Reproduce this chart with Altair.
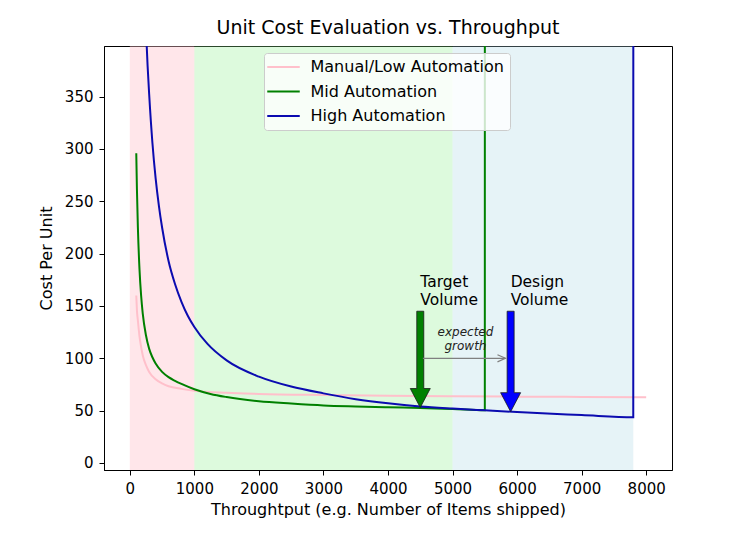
import altair as alt
import pandas as pd

FONT = "DejaVu Sans"

# ---------------- data ----------------
series_names = ["Manual/Low Automation", "Mid Automation", "High Automation"]
series_colors = ["pink", "green", "#0b0bb0"]

manual_x = [100, 110, 125, 150, 175, 200, 250, 300, 400, 500, 600, 800, 1000, 1500, 2000,
            3000, 4000, 5000, 6000, 7000, 8000]
manual_y = [160, 146, 136, 121, 111, 103, 93.5, 87, 80, 76, 73.3, 70.8, 69, 67, 66,
            65, 64.3, 63.8, 63.4, 63.1, 62.8]

mid_x = [100, 110, 125, 150, 175, 200, 250, 300, 350, 400, 500, 600, 700, 800, 1000, 1250,
         1500, 2000, 2500, 3000, 3500, 4000, 4500, 5000, 5500, 5501]
mid_y = [296, 262, 225, 185, 160, 143, 122, 109, 101, 95, 87, 82, 78.5, 75.5, 70.5, 66,
         63, 59, 56.8, 55, 54, 53.2, 52.6, 51.6, 50.5, 600]

high_x = [100, 125, 150, 175, 200, 225, 250, 275, 300, 350, 400, 450, 500, 600, 700, 800, 900,
          1000, 1200, 1500, 2000, 2500, 3000, 3500, 4000, 4500, 5000, 5500, 6000, 7000, 7800, 7801]
high_y = [985, 795, 668, 578, 510, 457, 415, 380, 352, 306, 272, 246, 225, 193, 171, 154, 140.5,
          130, 114, 98, 82.5, 73, 66.5, 61, 57, 54, 52, 50.3, 48.6, 45.8, 43.7, 600]

region_start = [0, 1000, 5000]
region_end = [1000, 5000, 7800]
region_colors = ["pink", "lightgreen", "lightblue"]
region_opacity = [0.4, 0.3, 0.3]

arrow_labels = ["Target\nVolume", "Design\nVolume"]
arrow_x = [4500, 5900]
arrow_tail = [145, 145]
arrow_tip = [53, 49]
arrow_fill = ["green", "blue"]

growth_start = [4540]
growth_end = [5820]
growth_y = [100]
growth_text = ["expected\ngrowth"]

x_ticks = [0, 1000, 2000, 3000, 4000, 5000, 6000, 7000, 8000]
y_ticks = [0, 50, 100, 150, 200, 250, 300, 350]
X_DOMAIN = [-400, 8400]
Y_DOMAIN = [-6.7, 398.4]

W, H = 568, 424

# ---------------- tables ----------------
rows = []
for name, xs_, ys_ in zip(series_names, [manual_x, mid_x, high_x], [manual_y, mid_y, high_y]):
    for i, (xv, yv) in enumerate(zip(xs_, ys_)):
        rows.append({"series": name, "x": xv, "y": yv, "idx": i})
line_df = pd.DataFrame(rows)

region_df = pd.DataFrame({"start": region_start, "end": region_end,
                          "color": region_colors, "op": region_opacity,
                          "y0": [Y_DOMAIN[0]] * 3, "y1": [Y_DOMAIN[1]] * 3})

ppu = H / (Y_DOMAIN[1] - Y_DOMAIN[0])


def arrow_path(length_px, head_len=19.0, head_hw=10.0, shaft_hw=3.5):
    r = length_px / 2.0
    s = shaft_hw / r
    h = head_hw / r
    hb = 1 - head_len / r
    return (f"M{-s:.4f},-1L{s:.4f},-1L{s:.4f},{hb:.4f}L{h:.4f},{hb:.4f}"
            f"L0,1L{-h:.4f},{hb:.4f}L{-s:.4f},{hb:.4f}Z")


arrow_rows = []
for lab, xv, t, tp, f in zip(arrow_labels, arrow_x, arrow_tail, arrow_tip, arrow_fill):
    L = (t - tp) * ppu
    arrow_rows.append({"label": lab, "x": xv, "tail": t, "tip": tp, "mid": (t + tp) / 2,
                       "fill": f, "path": arrow_path(L), "sz": L * L})
arrow_df = pd.DataFrame(arrow_rows)

growth_df = pd.DataFrame({"x0": growth_start, "x1": growth_end, "y": growth_y,
                          "text": growth_text,
                          "xm": [(arrow_x[0] + arrow_x[1]) / 2]})

xs = alt.Scale(domain=X_DOMAIN, nice=False, zero=False)
ys = alt.Scale(domain=Y_DOMAIN, nice=False, zero=False)

x_axis = alt.Axis(values=x_ticks, format="d", grid=False, tickSize=5, labelPadding=6.5,
                  labelFontSize=15, labelFont=FONT, labelColor="black", labelOverlap=False,
                  titleFontSize=16, titleFont=FONT, titleFontWeight="normal", titleColor="black",
                  titleBaseline="alphabetic", titleY=44, domainColor="black", tickColor="black",
                  labelFlush=False)
y_axis = alt.Axis(values=y_ticks, format="d", grid=False, tickSize=5, labelPadding=6,
                  labelFontSize=15, labelFont=FONT, labelColor="black", labelOverlap=False,
                  titleFontSize=16, titleFont=FONT, titleFontWeight="normal", titleColor="black",
                  titleBaseline="alphabetic", titleX=-52.3, titleY=H / 2, titleAngle=270,
                  titleAlign="center", domainColor="black", tickColor="black", labelFlush=False)

regions = alt.Chart(region_df).mark_rect(clip=True).encode(
    x=alt.X("start:Q", scale=xs, axis=x_axis, title="Throughtput (e.g. Number of Items shipped)"),
    x2="end:Q",
    y=alt.Y("y0:Q", scale=ys, axis=y_axis, title="Cost Per Unit"),
    y2="y1:Q",
    color=alt.Color("color:N", scale=None),
    opacity=alt.Opacity("op:Q", scale=None),
)

lines = alt.Chart(line_df).mark_line(clip=True, strokeWidth=2, interpolate="monotone").encode(
    x=alt.X("x:Q", scale=xs),
    y=alt.Y("y:Q", scale=ys),
    color=alt.Color("series:N", scale=alt.Scale(domain=series_names, range=series_colors),
                    legend=alt.Legend(orient="none", legendX=160, legendY=7, title=None,
                                      symbolType="M-2.5,0L2.5,0", symbolSize=169,
                                      symbolStrokeWidth=2, labelFontSize=16, labelFont=FONT,
                                      labelColor="black", labelLimit=400, padding=6,
                                      rowPadding=8.5, symbolOffset=5.5, labelOffset=19,
                                      fillColor="rgba(255,255,255,0.8)", strokeColor="#cccccc",
                                      cornerRadius=3)),
    order=alt.Order("idx:Q"),
)

arrows = alt.Chart(arrow_df).mark_point(filled=True, stroke="#1a1a1a", strokeWidth=0.8,
                                        opacity=1).encode(
    x=alt.X("x:Q", scale=xs),
    y=alt.Y("mid:Q", scale=ys),
    shape=alt.Shape("path:N", scale=None),
    size=alt.Size("sz:Q", scale=None),
    fill=alt.Fill("fill:N", scale=None),
)

arrow_text = alt.Chart(arrow_df).mark_text(align="left", baseline="alphabetic", fontSize=15.5,
                                           lineBreak="\n", lineHeight=18, dy=-24, font=FONT,
                                           color="black").encode(
    x=alt.X("x:Q", scale=xs),
    y=alt.Y("tail:Q", scale=ys),
    text="label:N",
)

growth_rule = alt.Chart(growth_df).mark_rule(color="gray", strokeWidth=1.2).encode(
    x=alt.X("x0:Q", scale=xs), x2="x1:Q", y=alt.Y("y:Q", scale=ys))

growth_head = alt.Chart(growth_df).mark_point(shape="M-1,-0.45L0,0L-1,0.45", size=256,
                                              filled=False, color="gray", strokeWidth=1.2,
                                              opacity=1).encode(
    x=alt.X("x1:Q", scale=xs), y=alt.Y("y:Q", scale=ys))

growth_label = alt.Chart(growth_df).mark_text(align="center", baseline="alphabetic", fontSize=12,
                                              fontStyle="italic", lineBreak="\n", lineHeight=14,
                                              dy=-22, font=FONT, color="#222222").encode(
    x=alt.X("xm:Q", scale=xs), y=alt.Y("y:Q", scale=ys), text="text:N")

chart = alt.layer(regions, lines, arrows, arrow_text, growth_rule, growth_head, growth_label).properties(
    width=W, height=H,
    title=alt.TitleParams("Unit Cost Evaluation vs. Throughput", fontSize=19, font=FONT,
                          fontWeight="normal", color="black", anchor="middle", offset=8),
    padding={"left": 96, "top": 38, "right": 61, "bottom": 66},
    autosize=alt.AutoSizeParams(type="none"),
    background="white",
).configure_view(stroke="black", strokeWidth=1)

chart.save("out.html", embed_options={"renderer": "svg", "actions": False})
